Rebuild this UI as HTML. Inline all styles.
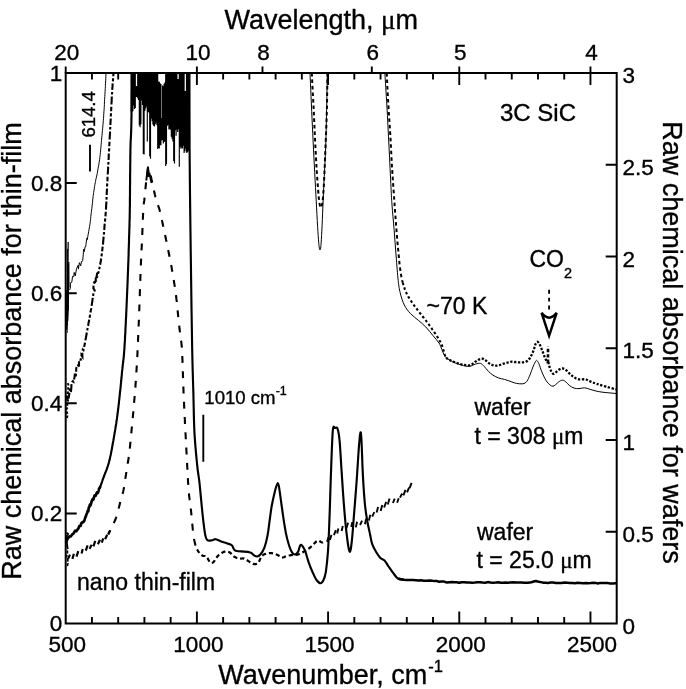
<!DOCTYPE html>
<html><head><meta charset="utf-8"><title>3C SiC absorbance</title>
<style>
html,body{margin:0;padding:0;background:#fff;}
svg{display:block;}
text{font-family:"Liberation Sans",Arial,Helvetica,sans-serif;fill:#000;stroke:#000;stroke-width:0.35px;}
</style></head><body>
<svg width="686" height="689" viewBox="0 0 686 689">
<rect width="686" height="689" fill="#fff"/>
<defs><clipPath id="pc"><rect x="65.7" y="72.9" width="551.0" height="550.7"/></clipPath></defs>
<g clip-path="url(#pc)">
<path d="M67.3,333.0 L67.3,314.1 L66.7,329.7 L66.9,289.9 L67.0,325.7 L68.3,305.7 L67.3,322.8 L67.8,271.6 L67.8,320.8 L67.7,280.5 L66.9,317.1 L68.1,274.8 L66.9,313.8 L68.3,291.5 L68.0,310.9 L68.1,266.1 L68.0,306.6 L67.8,279.3 L67.2,302.3 L67.4,248.9 L67.6,300.2 L68.2,242.0 L67.6,297.8 L67.8,264.4 L68.3,294.5 L68.4,275.7 L68.4,290.2 L68.4,264.1 L68.5,288.2 L68.8,262.0 L69.2,287.6" fill="none" stroke="#000" stroke-width="0.8" stroke-linejoin="round"/>
<path d="M69.3,289.3 L69.8,289.7 L70.3,288.0 L70.4,282.8 L71.8,282.2 L72.5,276.6 L72.9,275.9 L73.8,276.6 L74.2,272.4 L75.3,275.8 L76.5,268.7 L77.4,267.0 L78.1,265.3 L78.4,269.1 L79.4,262.7 L80.8,265.8 L80.8,265.0 L81.5,261.5 L81.8,261.9 L82.7,260.5 L83.3,254.1 L83.4,251.5 L83.6,249.3 L84.2,251.7 L84.4,250.8 L85.1,246.6 L85.9,246.2 L85.9,244.5 L86.7,239.5 L87.2,237.8 L87.1,239.8 L87.5,238.2 L87.8,236.5 L88.1,234.8 L88.4,233.1 L88.7,231.4 L89.0,229.7 L89.3,228.0 L89.6,226.3 L89.8,224.7 L90.1,223.1 L90.3,221.4 L90.5,219.8 L90.7,218.2 L90.8,216.6 L91.0,215.0 L91.2,213.3 L91.4,211.7 L91.6,210.0 L91.8,208.4 L92.0,206.8 L92.2,205.1 L92.4,203.5 L92.6,201.8 L92.7,200.1 L92.9,198.5 L93.1,196.8 L93.3,195.3 L93.5,193.8 L93.7,192.4 L94.0,190.3 L94.3,188.3 L94.6,186.4 L94.9,184.6 L95.2,182.9 L95.5,181.5 L95.7,180.2 L96.1,178.5 L96.7,176.1 L96.9,175.0 L97.2,173.7 L97.4,172.2 L97.7,170.6 L98.0,168.9 L98.3,167.1 L98.7,165.2 L99.0,163.3 L99.3,161.5 L99.6,159.6 L99.8,157.8 L100.0,156.2 L100.2,154.5 L100.4,152.8 L100.6,151.1 L100.7,149.4 L100.9,147.7 L101.0,145.9 L101.2,144.2 L101.3,142.5 L101.5,140.7 L101.6,139.0 L101.8,137.3 L102.0,135.6 L102.1,133.9 L102.3,132.2 L102.4,130.5 L102.6,128.8 L102.8,127.1 L102.9,125.4 L103.1,123.7 L103.2,122.0 L103.3,120.3 L103.5,118.6 L103.6,116.9 L103.7,115.2 L103.8,113.5 L103.9,111.7 L104.1,109.9 L104.2,108.2 L104.3,106.4 L104.4,104.7 L104.4,103.0 L104.5,101.3 L104.6,99.7 L104.7,98.1 L104.8,96.5 L104.9,94.7 L105.0,93.0 L105.1,91.4 L105.2,89.9 L105.3,88.3 L105.4,86.8 L105.4,85.2 L105.5,83.6 L105.6,82.0 L105.7,80.2 L105.8,78.6 L105.8,76.8 L105.9,75.0 L106.0,73.0 L106.1,71.0 L106.2,69.1 L106.2,67.2 L106.3,65.4 L106.4,63.7 L106.4,62.2 L106.5,61.0 L106.5,60.0" fill="none" stroke="#000" stroke-width="1.0" stroke-linejoin="round"/>
<path d="M309.5,60.0 C309.6,62.2 309.5,62.2 310.0,73.2 C310.5,84.2 311.5,107.2 312.4,126.2 C313.3,145.2 314.5,169.2 315.5,187.4 C316.5,205.6 317.4,225.2 318.2,235.6 C318.9,246.0 319.4,249.9 320.0,249.9 C320.6,249.9 321.0,246.0 321.6,235.6 C322.2,225.2 323.0,202.2 323.7,187.4 C324.4,172.6 325.2,160.2 325.7,146.6 C326.2,133.0 326.4,118.0 326.7,105.8 C327.0,93.6 327.2,80.8 327.3,73.2 C327.4,65.6 327.5,62.2 327.5,60.0" fill="none" stroke="#000" stroke-width="1.0"/>
<path d="M384.3,60.0 C384.4,62.2 384.5,65.6 384.9,73.2 C385.3,80.8 386.2,93.6 386.9,105.8 C387.6,118.0 388.3,133.0 389.0,146.6 C389.7,160.2 390.5,177.7 391.0,187.4 C391.5,197.1 391.5,198.0 392.0,205.0 C392.5,212.0 393.4,221.0 394.1,229.5 C394.8,238.0 395.4,247.5 396.1,256.0 C396.8,264.5 397.5,274.4 398.2,280.5 C398.9,286.6 399.2,288.7 400.2,292.8 C401.2,296.9 402.6,301.6 404.3,305.0 C406.0,308.4 408.0,310.9 410.4,313.5 C412.8,316.1 416.0,318.2 418.6,320.5 C421.2,322.8 423.4,324.5 425.8,327.0 C428.2,329.5 430.9,333.0 433.1,335.7 C435.3,338.4 437.5,340.7 439.0,343.0 C440.5,345.3 440.9,347.4 441.9,349.6 C442.9,351.8 443.6,354.4 444.8,356.1 C446.0,357.8 447.3,358.6 449.2,359.8 C451.1,361.0 454.0,362.4 456.4,363.4 C458.8,364.4 461.5,365.1 463.7,365.6 C465.9,366.1 467.7,366.6 469.6,366.3 C471.6,366.1 473.6,364.6 475.4,364.1 C477.2,363.6 479.1,363.0 480.5,363.4 C481.9,363.8 482.8,365.0 484.1,366.3 C485.4,367.6 487.0,369.9 488.5,371.4 C490.0,372.9 491.2,374.0 492.9,375.1 C494.6,376.2 496.8,377.3 498.7,378.0 C500.6,378.7 502.3,378.8 504.5,379.4 C506.7,380.0 509.8,381.2 511.8,381.9 C513.8,382.6 514.6,383.1 516.4,383.4 C518.2,383.7 521.1,384.1 522.8,383.8 C524.5,383.5 525.6,382.9 526.8,381.4 C528.0,379.9 528.9,377.4 530.0,374.9 C531.1,372.3 532.3,368.4 533.3,366.1 C534.2,363.8 535.1,362.2 535.7,361.3 C536.3,360.4 536.4,360.1 536.9,360.5 C537.4,360.9 538.0,361.7 538.9,363.7 C539.8,365.7 540.9,369.7 542.1,372.5 C543.3,375.3 544.8,378.5 546.1,380.6 C547.4,382.7 549.0,384.1 550.1,385.0 C551.2,385.9 552.1,386.3 553.0,386.2 C553.9,386.1 554.7,385.4 555.7,384.6 C556.7,383.9 557.8,382.4 558.9,381.7 C560.0,381.0 561.0,380.2 562.1,380.2 C563.2,380.1 564.1,380.5 565.3,381.4 C566.5,382.3 567.8,384.3 569.3,385.4 C570.8,386.5 572.5,387.6 574.1,388.1 C575.7,388.6 577.2,388.7 579.0,388.6 C580.8,388.6 582.7,387.7 584.6,387.8 C586.5,387.9 587.9,388.8 590.2,389.4 C592.5,390.0 595.5,391.0 598.2,391.5 C600.9,392.0 603.1,392.3 606.2,392.6 C609.3,392.9 615.2,393.4 617.0,393.5" fill="none" stroke="#000" stroke-width="1.0"/>
<path d="M66.5,400.4 L67.4,398.8 L67.4,398.6 L67.7,397.1 L68.4,397.4 L68.6,393.1 L69.2,394.5 L70.1,388.3 L70.9,392.2 L71.3,388.5 L71.5,383.3 L72.2,382.1 L72.5,381.5 L72.9,381.2 L73.6,381.8 L74.1,379.0 L74.5,377.4 L74.9,373.5 L75.7,376.3 L76.1,373.1 L76.2,368.8 L76.8,366.1 L77.7,366.6 L78.3,365.1 L79.0,366.4 L79.0,361.3 L80.1,361.4 L80.7,359.6 L80.6,359.6 L81.5,356.2 L81.5,355.4 L82.4,356.7 L82.3,352.2 L82.8,349.4 L83.5,350.0 L83.8,348.8 L84.0,347.5 L84.3,346.1 L84.6,344.7 L84.9,343.2 L85.2,341.6 L85.5,340.0 L85.8,338.3 L86.1,336.6 L86.4,335.0 L86.7,333.3 L87.0,331.6 L87.3,330.0 L87.6,328.4 L87.9,326.9 L88.2,325.4 L88.4,323.8 L88.7,322.3 L89.0,320.7 L89.3,319.1 L89.6,317.5 L89.9,315.9 L90.1,314.4 L90.4,312.8 L90.7,311.3 L90.9,309.9 L91.2,308.5 L91.4,307.2 L91.6,305.9 L91.9,303.9 L92.2,302.1 L92.4,300.4 L92.7,298.8 L92.9,297.2 L93.1,295.8 L93.3,294.3 L93.5,293.0 L94.7,290.6 L94.2,289.5 L93.4,288.4 L93.5,286.4 L93.8,284.1 L94.4,282.1 L97.2,282.3 L95.6,280.9 L95.8,278.3 L98.3,277.7 L96.5,276.8 L97.2,273.4 L98.4,272.7 L98.8,271.2 L99.1,269.6 L99.5,267.9 L99.8,266.2 L100.2,264.5 L100.5,262.7 L100.8,261.0 L101.0,259.5 L101.3,257.9 L101.5,256.3 L101.7,254.7 L101.9,253.1 L102.1,251.5 L102.3,249.8 L102.5,248.1 L102.7,246.4 L102.9,244.7 L103.1,243.2 L103.2,241.7 L103.3,240.2 L103.5,238.6 L103.6,237.1 L103.7,235.5 L103.9,233.9 L104.0,232.4 L104.1,230.8 L104.3,229.3 L104.4,227.8 L104.5,226.3 L104.6,224.6 L104.8,223.1 L104.9,221.6 L105.1,220.2 L105.2,218.7 L105.3,217.2 L105.5,215.7 L105.6,214.0 L105.8,212.1 L105.9,210.0 L106.0,208.7 L106.1,207.4 L106.1,206.1 L106.2,204.6 L106.3,203.2 L106.4,201.7 L106.4,200.2 L106.5,198.6 L106.6,197.0 L106.7,195.4 L106.7,193.7 L106.8,192.1 L106.9,190.4 L107.0,188.8 L107.0,187.1 L107.1,185.5 L107.2,183.8 L107.3,182.2 L107.4,180.7 L107.5,179.3 L107.5,177.8 L107.6,176.3 L107.7,174.7 L107.8,173.2 L107.9,171.7 L108.0,170.2 L108.1,168.6 L108.1,167.1 L108.2,165.5 L108.3,164.0 L108.4,162.4 L108.5,160.9 L108.6,159.3 L108.7,157.8 L108.7,156.2 L108.8,154.7 L108.9,153.1 L109.0,151.6 L109.1,150.1 L109.2,148.5 L109.2,147.0 L109.3,145.5 L109.4,143.9 L109.5,142.4 L109.6,140.9 L109.6,139.4 L109.7,137.8 L109.8,136.3 L109.9,134.8 L110.0,133.2 L110.0,131.7 L110.1,130.2 L110.2,128.7 L110.3,127.1 L110.4,125.6 L110.4,124.1 L110.5,122.5 L110.6,121.0 L110.7,119.5 L110.8,117.9 L110.8,116.3 L110.9,114.7 L111.0,113.0 L111.1,111.4 L111.2,109.8 L111.3,108.1 L111.3,106.5 L111.4,104.9 L111.5,103.3 L111.6,101.7 L111.7,100.1 L111.7,98.6 L111.8,97.1 L111.9,95.7 L112.0,94.3 L112.1,92.9 L112.1,91.6 L112.2,90.4 L112.3,88.3 L112.5,86.4 L112.6,84.6 L112.7,82.9 L112.9,81.4 L113.0,79.9 L113.1,78.4 L113.2,77.1 L113.3,75.7 L113.4,74.4 L113.5,73.0 L113.6,71.1 L113.7,69.1 L113.8,67.2 L113.8,65.4 L113.9,63.7 L113.9,62.2 L114.0,61.0 L114.0,60.0" fill="none" stroke="#000" stroke-width="2.1" stroke-dasharray="6.5 2 3.2 2 4.6 2.2 8 2 2.6 2"/>
<path d="M66.9,418.0 L67.8,414.8 L66.7,411.2 L66.6,409.1 L67.9,407.0 L67.5,405.2 L66.9,403.2 L68.1,400.6 L66.3,397.6 L66.6,395.4 L68.1,391.7 L68.1,388.2 L68.4,384.8 L66.9,381.3" fill="none" stroke="#000" stroke-width="1.8" stroke-dasharray="2.5 1.8"/>
<path d="M311.5,60.0 C311.6,62.8 311.7,69.4 312.0,77.0 C312.3,84.6 313.0,95.9 313.5,105.8 C314.0,115.7 314.4,126.2 314.9,136.4 C315.4,146.6 315.9,157.1 316.5,167.0 C317.1,176.9 318.0,188.9 318.6,195.6 C319.2,202.3 319.8,205.6 320.4,207.0 C321.0,208.4 321.6,207.1 322.2,203.8 C322.8,200.5 323.2,195.2 323.7,187.4 C324.2,179.6 324.6,168.7 325.1,156.8 C325.6,144.9 326.3,127.9 326.7,116.0 C327.1,104.1 327.1,94.7 327.3,85.4 C327.5,76.1 327.7,64.2 327.8,60.0" fill="none" stroke="#000" stroke-width="2.0" stroke-dasharray="3.6 2.9"/>
<path d="M386.3,60.0 L386.3,60.5 L386.3,61.2 L386.4,61.9 L386.4,62.6 L386.4,63.5 L386.4,64.3 L386.5,65.3 L386.5,66.3 L386.5,67.3 L386.6,68.4 L386.6,69.6 L386.6,70.8 L386.7,72.0 L386.7,73.3 L386.8,74.5 L386.8,75.9 L386.9,77.2 L386.9,78.0 L387.0,78.9 L387.0,79.8 L387.1,80.7 L387.1,81.6 L387.2,82.5 L387.2,83.5 L387.2,84.5 L387.3,85.5 L387.3,86.5 L387.4,87.5 L387.5,88.6 L387.5,89.6 L387.6,90.7 L387.6,91.7 L387.7,92.8 L387.7,93.9 L387.8,95.0 L387.8,96.1 L387.9,97.2 L388.0,98.2 L388.0,99.3 L388.1,100.4 L388.2,101.5 L388.2,102.6 L388.3,103.7 L388.3,104.7 L388.4,105.8 L388.5,106.8 L388.5,107.8 L388.6,108.8 L388.6,109.8 L388.7,110.8 L388.8,111.8 L388.8,112.8 L388.9,113.8 L389.0,114.8 L389.0,115.9 L389.1,116.9 L389.2,117.9 L389.3,118.9 L389.3,119.9 L389.4,121.0 L389.5,122.0 L389.5,123.0 L389.6,124.1 L389.7,125.1 L389.7,126.1 L389.8,127.2 L389.9,128.2 L390.0,129.2 L390.0,130.2 L390.1,131.3 L390.1,132.3 L390.2,133.3 L390.3,134.4 L390.3,135.4 L390.4,136.4 L390.5,137.4 L390.5,138.4 L390.6,139.5 L390.6,140.5 L390.7,141.5 L390.7,142.5 L390.8,143.5 L390.8,144.6 L390.9,145.6 L390.9,146.6 L391.0,147.6 L391.0,148.6 L391.1,149.7 L391.1,150.7 L391.2,151.7 L391.2,152.7 L391.3,153.7 L391.3,154.8 L391.4,155.8 L391.4,156.8 L391.5,157.8 L391.5,158.8 L391.6,159.9 L391.7,160.9 L391.7,161.9 L391.8,162.9 L391.8,163.9 L391.9,165.0 L391.9,166.0 L392.0,167.0 L392.1,168.0 L392.1,169.0 L392.2,170.1 L392.3,171.1 L392.3,172.1 L392.4,173.2 L392.5,174.2 L392.5,175.3 L392.6,176.3 L392.7,177.3 L392.7,178.4 L392.8,179.4 L392.9,180.5 L393.0,181.5 L393.0,182.5 L393.1,183.6 L393.2,184.6 L393.2,185.6 L393.3,186.7 L393.4,187.7 L393.5,188.7 L393.5,189.7 L393.6,190.7 L393.7,191.8 L393.8,192.8 L393.8,193.8 L393.9,194.8 L394.0,195.7 L394.0,196.7 L394.1,197.7 L394.2,198.8 L394.3,199.9 L394.3,200.9 L394.4,202.0 L394.5,203.1 L394.6,204.2 L394.6,205.3 L394.7,206.4 L394.8,207.4 L394.9,208.5 L394.9,209.6 L395.0,210.6 L395.1,211.7 L395.2,212.7 L395.2,213.8 L395.3,214.8 L395.4,215.8 L395.5,216.8 L395.5,217.8 L395.6,218.8 L395.7,219.8 L395.7,220.8 L395.8,221.7 L395.9,222.7 L396.0,223.6 L396.0,224.5 L396.1,225.4 L396.2,226.6 L396.3,227.7 L396.4,228.9 L396.5,229.9 L396.5,231.0 L396.6,232.1 L396.7,233.1 L396.8,234.1 L396.9,235.1 L397.0,236.1 L397.0,237.0 L397.1,238.0 L397.2,239.0 L397.3,239.9 L397.4,240.9 L397.4,241.8 L397.5,242.8 L397.6,243.8 L397.7,244.8 L397.8,245.8 L397.9,246.8 L398.0,247.9 L398.1,248.9 L398.2,250.0 L398.3,251.0 L398.4,252.1 L398.5,253.2 L398.6,254.3 L398.7,255.3 L398.8,256.4 L398.9,257.4 L399.0,258.5 L399.1,259.5 L399.2,260.5 L399.3,261.5 L399.4,262.5 L399.5,263.5 L399.6,264.4 L399.7,265.3 L399.8,266.2 L400.0,267.4 L400.1,268.6 L400.3,269.7 L400.4,270.8 L400.6,271.8 L400.7,272.9 L400.9,273.9 L401.0,274.8 L401.2,275.8 L401.4,276.7 L401.6,277.7 L401.8,278.6 L402.0,279.6 L402.2,280.5 L402.5,281.6 L402.8,282.7" fill="none" stroke="#000" stroke-width="2.0" stroke-dasharray="3.6 2.9"/>
<path d="M402.8,282.7 L403.1,283.8 L403.4,284.8 L403.7,285.9 L404.0,286.9 L404.4,287.9 L404.7,288.9 L405.1,289.9 L405.5,290.9 L405.9,291.9 L406.3,292.8 L406.8,293.8 L407.3,294.8 L407.8,295.7 L408.3,296.7 L408.9,297.6 L409.4,298.5 L410.0,299.4 L410.6,300.3 L411.2,301.2 L411.8,302.1 L412.4,303.0 L413.0,303.9 L413.6,304.7 L414.2,305.6 L414.9,306.5 L415.6,307.4 L416.2,308.2 L416.9,309.1 L417.5,309.9 L418.2,310.8 L418.8,311.6 L419.4,312.4 L420.0,313.1 L420.7,314.0 L421.4,314.9 L422.1,315.7 L422.7,316.5 L423.3,317.3 L423.9,318.0 L424.5,318.8 L425.2,319.6 L425.8,320.4 L426.5,321.3 L427.1,322.1 L427.8,323.0 L428.4,323.9 L429.1,324.8 L429.7,325.6 L430.4,326.6 L431.0,327.5 L431.7,328.4 L432.3,329.3 L432.9,330.1 L433.5,331.0 L434.1,331.9 L434.7,332.8 L435.3,333.7 L435.9,334.6 L436.4,335.5 L437.0,336.3 L437.5,337.2 L438.1,338.1 L438.6,339.0 L439.2,340.0 L439.7,340.8 L440.2,341.7 L440.6,342.6 L441.1,343.5 L441.5,344.3 L441.9,345.2 L442.3,346.3 L442.7,347.4 L443.0,348.5 L443.3,349.6 L443.5,350.6 L443.8,351.6 L444.1,352.5 L444.5,353.7 L444.8,354.8 L445.1,355.8 L445.5,356.7 L446.2,357.6" fill="none" stroke="#000" stroke-width="2.1" stroke-dasharray="2.5 2.4"/>
<path d="M446.2,357.6 L446.9,358.3 L447.8,359.0 L448.8,359.6 L449.9,360.1 L451.0,360.7 L452.1,361.2 L453.1,361.6 L454.1,362.0 L455.1,362.4 L456.2,362.7 L457.3,363.1 L458.4,363.4 L459.4,363.7 L460.5,364.0 L461.5,364.3 L462.6,364.6 L463.7,364.8 L464.7,365.0 L465.7,365.2 L466.6,365.3 L467.9,365.4 L468.9,365.4 L469.9,365.3 L471.0,364.9 L471.8,364.5 L472.6,363.9 L473.5,363.2 L474.4,362.5 L475.2,361.8 L476.1,361.2 L477.1,360.6 L478.2,359.9 L479.3,359.4 L480.3,359.0 L481.2,358.7 L482.5,358.7 L483.7,359.1 L484.9,359.8 L485.7,360.4 L486.5,361.1 L487.4,361.9 L488.3,362.7 L489.2,363.4 L490.2,364.0 L491.2,364.5 L492.3,365.0 L493.3,365.3 L494.3,365.6 L495.4,365.7 L496.5,365.7 L497.5,365.5 L498.7,365.3 L499.6,365.1 L500.5,364.8 L501.4,364.4 L502.4,364.1 L503.4,363.7 L504.5,363.4 L505.5,363.1 L506.5,362.8 L507.6,362.5 L508.7,362.3 L509.8,362.0 L510.8,361.8 L511.8,361.7 L512.9,361.7 L513.9,361.8 L515.0,362.0 L516.0,362.2 L517.0,362.3 L518.0,362.4 L519.1,362.4 L520.2,362.4 L521.3,362.4 L522.4,362.4 L523.5,362.3 L524.4,362.1 L525.6,361.8 L526.6,361.4 L527.5,360.8 L528.4,360.0 L529.0,359.3 L529.6,358.6 L530.1,357.7 L530.6,356.8 L531.1,355.9 L531.6,354.9 L532.1,353.9 L532.5,352.8 L533.0,351.7 L533.4,350.6 L533.7,349.5 L534.1,348.5 L534.5,347.4 L534.8,346.3 L535.1,345.3 L535.4,344.4 L535.7,343.7 L536.6,342.3 L537.6,341.8 L538.3,342.3 L539.0,343.2 L539.7,344.5 L540.1,345.3 L540.5,346.1 L540.9,347.1 L541.3,348.1 L541.7,349.1 L542.1,350.1 L542.5,351.1 L542.9,352.2 L543.3,353.4 L543.7,354.5 L544.1,355.5 L544.5,356.5 L545.0,357.6 L545.4,358.7 L545.9,359.7 L546.3,360.6 L546.6,361.3 L547.6,363.0" fill="none" stroke="#000" stroke-width="2.3" stroke-dasharray="2.3 1.6"/>
<path d="M548.3,362.0 C548.5,362.7 548.8,364.5 549.3,366.1 C549.8,367.7 550.7,370.4 551.4,371.7 C552.1,373.0 552.8,373.8 553.6,373.8 C554.5,373.8 555.5,372.4 556.5,371.7 C557.5,370.9 558.6,369.8 559.7,369.3 C560.8,368.8 561.8,368.4 562.9,368.5 C564.0,368.6 564.9,369.2 566.1,370.1 C567.3,371.0 568.8,372.9 570.1,374.1 C571.4,375.3 572.6,376.5 574.1,377.4 C575.6,378.3 577.1,379.0 579.0,379.3 C580.9,379.6 583.5,379.0 585.4,379.4 C587.3,379.8 588.3,380.7 590.2,381.4 C592.1,382.1 593.9,382.9 596.6,383.8 C599.3,384.7 602.8,385.7 606.2,386.7 C609.6,387.7 615.2,389.1 617.0,389.6" fill="none" stroke="#000" stroke-width="2.3" stroke-dasharray="2.3 1.6"/>
<path d="M548.0,363.0 L548.0,346.5" fill="none" stroke="#000" stroke-width="2.6" stroke-dasharray="3.4 2"/>
<path d="M108.0,533.9 L108.6,533.2 L109.1,532.4 L109.6,531.5 L110.1,530.6 L110.5,529.7 L111.0,528.7 L111.5,527.7 L112.0,526.7 L112.5,525.8 L112.9,524.8 L113.4,523.9 L113.9,522.9 L114.3,521.9 L114.8,520.9 L115.3,519.8 L115.7,518.7 L116.1,517.6 L116.4,516.6 L116.7,515.6 L117.0,514.6 L117.3,513.5 L117.6,512.4 L117.9,511.3 L118.2,510.3 L118.5,509.2 L118.7,508.2 L119.0,507.2 L119.2,506.3 L119.5,505.1 L119.8,504.1 L120.0,503.0 L120.3,502.1 L120.5,501.1 L120.7,500.2 L120.9,499.2 L121.2,498.2 L121.5,497.2 L121.7,496.4 L122.0,495.5 L122.3,494.7 L122.6,493.8 L122.9,492.7 L123.2,491.5 L123.5,490.0 L123.7,489.2 L123.8,488.4 L124.0,487.5 L124.1,486.6 L124.3,485.6 L124.4,484.6 L124.6,483.6 L124.8,482.5 L124.9,481.4 L125.1,480.3 L125.3,479.2 L125.4,478.1 L125.6,476.9 L125.8,475.8 L126.0,474.7 L126.1,473.5 L126.3,472.4 L126.4,471.5 L126.6,470.5 L126.7,469.6 L126.9,468.7 L127.1,467.7 L127.2,466.8 L127.4,465.9 L127.5,464.9 L127.7,464.0 L127.8,463.0 L128.0,462.0 L128.2,461.0 L128.3,460.0 L128.5,459.0 L128.6,457.9 L128.8,456.8 L128.9,455.6 L129.1,454.5 L129.2,453.3 L129.4,452.0 L129.5,451.1 L129.6,450.3 L129.7,449.4 L129.8,448.4 L129.9,447.5 L130.0,446.5 L130.1,445.6 L130.2,444.6 L130.3,443.6 L130.4,442.6 L130.5,441.5 L130.6,440.5 L130.7,439.4 L130.8,438.4 L130.9,437.3 L131.0,436.3 L131.1,435.2 L131.2,434.1 L131.3,433.1 L131.4,432.0 L131.5,430.9 L131.6,429.8 L131.7,428.8 L131.8,427.7 L131.9,426.6 L132.0,425.6 L132.1,424.5 L132.2,423.5 L132.3,422.4 L132.4,421.4 L132.5,420.4 L132.6,419.3 L132.7,418.3 L132.8,417.2 L132.9,416.2 L133.0,415.1 L133.1,414.0 L133.2,413.0 L133.3,411.9 L133.4,410.8 L133.5,409.7 L133.6,408.7 L133.7,407.6 L133.8,406.5 L133.8,405.5 L133.9,404.4 L134.0,403.4 L134.1,402.3 L134.2,401.3 L134.3,400.2 L134.4,399.2 L134.5,398.2 L134.6,397.2 L134.6,396.3 L134.7,395.3 L134.8,394.4 L134.9,393.4 L135.0,392.5 L135.0,391.7 L135.1,390.8 L135.2,389.5 L135.3,388.3 L135.4,387.2 L135.5,386.1 L135.5,385.0 L135.6,383.9 L135.7,382.9 L135.8,381.9 L135.8,380.9 L135.9,380.0 L136.0,379.0 L136.0,378.1 L136.1,377.1 L136.1,376.2 L136.2,375.3 L136.3,374.3 L136.3,373.4 L136.4,372.4 L136.4,371.4 L136.5,370.4 L136.6,369.4 L136.6,368.4 L136.7,367.5 L136.7,366.6 L136.8,365.7 L136.8,364.8 L136.9,364.0 L136.9,363.1 L137.0,362.2 L137.0,361.3 L137.1,360.4 L137.1,359.4 L137.2,358.4 L137.2,357.4 L137.3,356.3 L137.4,355.2 L137.4,354.0 L137.5,352.8 L137.5,351.4 L137.6,350.0 L137.6,349.2 L137.7,348.4 L137.7,347.6 L137.7,346.8 L137.8,345.9 L137.8,345.0 L137.9,344.1 L137.9,343.2 L137.9,342.3 L138.0,341.3 L138.0,340.4 L138.1,339.4 L138.1,338.4 L138.2,337.4 L138.2,336.4 L138.2,335.4 L138.3,334.4 L138.3,333.3 L138.4,332.3 L138.4,331.2 L138.5,330.2 L138.5,329.1 L138.6,328.0 L138.6,327.0 L138.6,325.9 L138.7,324.8 L138.7,323.7 L138.8,322.6 L138.8,321.6 L138.9,320.5 L138.9,319.4 L139.0,318.3 L139.0,317.3 L139.0,316.2 L139.1,315.1 L139.1,314.1 L139.2,313.0 L139.2,312.0 L139.2,311.0 L139.3,310.0 L139.3,309.0 L139.3,308.0 L139.4,307.0 L139.4,305.9 L139.5,304.9 L139.5,303.9 L139.5,302.8 L139.6,301.8 L139.6,300.7 L139.6,299.6 L139.7,298.6 L139.7,297.5 L139.7,296.5 L139.8,295.4 L139.8,294.3 L139.8,293.3 L139.9,292.2 L139.9,291.1 L139.9,290.1 L140.0,289.0 L140.0,288.0 L140.0,286.9 L140.1,285.9 L140.1,284.8 L140.2,283.8 L140.2,282.8 L140.2,281.8 L140.3,280.7 L140.3,279.7 L140.3,278.8 L140.4,277.8 L140.4,276.8 L140.4,275.8 L140.5,274.9 L140.5,273.9 L140.5,273.0 L140.6,272.1 L140.6,271.2 L140.6,270.0 L140.7,268.9 L140.7,267.7 L140.8,266.6 L140.8,265.5 L140.9,264.4 L140.9,263.4 L141.0,262.3 L141.0,261.3 L141.1,260.2 L141.1,259.2 L141.2,258.2 L141.2,257.2 L141.3,256.2 L141.3,255.3 L141.4,254.3 L141.4,253.3 L141.4,252.4 L141.5,251.4 L141.5,250.4 L141.6,249.5 L141.6,248.5 L141.7,247.5 L141.7,246.6 L141.8,245.6 L141.8,244.6 L141.9,243.6 L141.9,242.6 L142.0,241.6 L142.0,240.6 L142.0,239.6 L142.1,238.5 L142.1,237.5 L142.2,236.4 L142.2,235.3 L142.3,234.2 L142.3,233.1 L142.4,232.0 L142.4,230.9 L142.4,229.8 L142.5,228.7 L142.5,227.5 L142.6,226.4 L142.6,225.3 L142.7,224.2 L142.7,223.1 L142.7,222.1 L142.8,221.0 L142.8,220.0 L142.9,218.9 L142.9,217.9 L142.9,216.9 L143.0,216.0 L143.0,215.0 L143.1,214.1 L143.1,213.2 L143.2,212.4 L143.2,211.5 L143.3,210.8 L143.3,210.0 L143.4,208.4 L143.5,207.0 L143.6,205.7 L143.7,204.6 L143.8,203.6 L143.9,202.7 L144.0,201.8 L144.2,201.0 L144.3,200.2 L144.4,199.3 L144.5,198.4 L144.6,197.5 L144.7,196.5 L144.8,195.5 L144.9,194.5 L145.0,193.5 L145.1,192.4 L145.2,191.4 L145.3,190.3 L145.4,189.3 L145.5,188.2 L145.6,187.2 L145.7,186.2 L145.8,185.1 L145.9,184.1 L146.0,183.2 L146.1,182.2 L146.2,181.1 L146.4,179.9 L146.5,178.8 L146.7,177.6 L146.8,176.5 L147.0,175.4 L147.2,174.3 L147.3,173.3 L147.4,172.3 L147.6,171.4 L147.7,170.7 L147.8,170.0 L148.1,167.5 L148.4,167.6 L148.6,168.1 L148.9,168.8 L149.1,169.7 L149.4,170.8 L149.8,172.0 L150.1,173.3 L150.5,174.7 L150.8,176.1 L151.0,176.9 L151.2,177.9 L151.4,178.8 L151.6,179.8 L151.9,180.9 L152.1,181.9 L152.3,183.0 L152.5,184.1 L152.8,185.2 L153.0,186.3 L153.2,187.4 L153.5,188.4 L153.7,189.4 L153.9,190.4 L154.2,191.5 L154.4,192.6 L154.7,193.7 L154.9,194.8 L155.2,195.9 L155.4,197.0 L155.7,198.0 L155.9,199.0 L156.2,200.0 L156.4,201.0 L156.7,201.9 L156.9,202.7 L157.3,203.9 L157.6,204.8 L158.0,205.5 L158.3,206.2 L158.7,207.1 L159.1,208.3 L159.6,210.0 L159.8,210.7 L160.0,211.5 L160.2,212.3 L160.4,213.2 L160.6,214.1 L160.8,215.0 L161.0,216.0 L161.2,217.0 L161.5,218.1 L161.7,219.1 L161.9,220.2 L162.2,221.3 L162.4,222.4 L162.6,223.6 L162.9,224.7 L163.1,225.8 L163.4,227.0 L163.6,228.1 L163.9,229.3 L164.1,230.4 L164.3,231.3 L164.5,232.2 L164.7,233.2 L164.9,234.1 L165.1,235.1 L165.3,236.0 L165.5,237.0 L165.7,238.0 L165.9,239.0 L166.1,240.0 L166.4,241.0 L166.6,242.0 L166.8,243.0 L167.0,244.0 L167.2,245.1 L167.4,246.1 L167.6,247.1 L167.8,248.1 L168.0,249.1 L168.2,250.1 L168.4,251.1 L168.6,252.0 L168.8,253.0 L169.0,254.0 L169.2,254.9 L169.4,256.0 L169.6,257.0 L169.8,258.1 L170.0,259.1 L170.2,260.2 L170.4,261.2 L170.6,262.2 L170.8,263.3 L171.0,264.3 L171.2,265.3 L171.4,266.3 L171.6,267.4 L171.8,268.4 L171.9,269.4 L172.1,270.4 L172.3,271.4 L172.5,272.4 L172.6,273.4 L172.8,274.4 L173.0,275.3 L173.1,276.3 L173.3,277.3 L173.5,278.4 L173.6,279.4 L173.8,280.5 L174.0,281.5 L174.1,282.6 L174.3,283.6 L174.5,284.6 L174.6,285.6 L174.8,286.7 L174.9,287.7 L175.1,288.7 L175.2,289.7 L175.4,290.7 L175.5,291.7 L175.6,292.7 L175.8,293.7 L175.9,294.7 L176.0,295.8 L176.2,296.8 L176.3,297.8 L176.4,298.8 L176.5,299.9 L176.7,300.9 L176.8,301.9 L176.9,303.0 L177.0,304.0 L177.1,305.0 L177.2,306.1 L177.3,307.1 L177.4,308.1 L177.5,309.2 L177.6,310.2 L177.7,311.2 L177.8,312.2 L177.9,313.3 L178.0,314.3 L178.1,315.3 L178.2,316.2 L178.3,317.2 L178.4,318.2 L178.5,319.3 L178.6,320.4 L178.7,321.4 L178.9,322.5 L179.0,323.6 L179.1,324.6 L179.2,325.7 L179.3,326.7 L179.4,327.8 L179.5,328.8 L179.7,329.8 L179.8,330.8 L179.9,331.8 L180.0,332.8 L180.1,333.8 L180.2,334.7 L180.3,335.6 L180.4,336.5 L180.5,337.6 L180.7,338.6 L180.8,339.4 L180.9,340.1 L181.0,340.8 L181.2,341.5 L181.3,342.2 L181.4,343.0 L181.5,344.0 L181.6,345.1 L181.8,346.5 L181.9,348.1 L182.0,350.0 L182.0,350.7 L182.1,351.4 L182.1,352.2 L182.2,353.0 L182.2,353.9 L182.2,354.7 L182.3,355.6 L182.3,356.6 L182.3,357.5 L182.4,358.5 L182.4,359.5 L182.5,360.6 L182.5,361.6 L182.5,362.7 L182.6,363.7 L182.6,364.8 L182.6,366.0 L182.7,367.1 L182.7,368.2 L182.8,369.3 L182.8,370.5 L182.8,371.6 L182.9,372.8 L182.9,373.9 L182.9,375.0 L183.0,376.2 L183.0,377.3 L183.1,378.4 L183.1,379.6 L183.1,380.7 L183.2,381.8 L183.2,382.9 L183.2,383.9 L183.3,385.0 L183.3,386.0 L183.4,387.0 L183.4,388.0 L183.4,389.0 L183.5,389.9 L183.5,390.8 L183.5,392.0 L183.6,393.1 L183.6,394.3 L183.7,395.4 L183.7,396.5 L183.8,397.6 L183.8,398.6 L183.9,399.7 L183.9,400.7 L184.0,401.8 L184.0,402.8 L184.1,403.8 L184.1,404.8 L184.1,405.8 L184.2,406.7 L184.2,407.7 L184.3,408.7 L184.3,409.6 L184.4,410.6 L184.4,411.6 L184.5,412.5 L184.5,413.5 L184.6,414.5 L184.6,415.4 L184.7,416.4 L184.7,417.4 L184.8,418.4 L184.8,419.4 L184.9,420.4 L184.9,421.4 L184.9,422.4 L185.0,423.4 L185.0,424.4 L185.1,425.4 L185.1,426.4 L185.2,427.4 L185.2,428.4 L185.3,429.4 L185.3,430.3 L185.4,431.3 L185.5,432.3 L185.5,433.3 L185.6,434.3 L185.6,435.3 L185.7,436.2 L185.7,437.2 L185.8,438.2 L185.8,439.2 L185.9,440.2 L185.9,441.3 L186.0,442.3 L186.0,443.3 L186.1,444.4 L186.1,445.4 L186.2,446.5 L186.3,447.5 L186.3,448.6 L186.4,449.7 L186.4,450.9 L186.5,452.0 L186.5,452.9 L186.6,453.9 L186.6,454.8 L186.7,455.8 L186.8,456.8 L186.8,457.8 L186.9,458.8 L186.9,459.9 L187.0,461.0 L187.0,462.0 L187.1,463.1 L187.1,464.2 L187.2,465.3 L187.2,466.4 L187.3,467.5 L187.4,468.6 L187.4,469.7 L187.5,470.8 L187.5,471.9 L187.6,473.0 L187.6,474.1 L187.7,475.2 L187.8,476.2 L187.8,477.3 L187.9,478.3 L187.9,479.4 L188.0,480.4 L188.0,481.4 L188.1,482.3 L188.2,483.3 L188.2,484.2 L188.3,485.1 L188.3,486.0 L188.4,486.9 L188.4,487.7 L188.5,488.5 L188.5,489.3 L188.6,490.0 L188.7,491.6 L188.9,493.1 L189.0,494.4 L189.1,495.6 L189.2,496.6 L189.4,497.6 L189.5,498.6 L189.6,499.4 L189.8,500.2 L189.9,501.0 L190.0,501.8 L190.1,502.6 L190.2,503.5 L190.4,504.3 L190.5,505.3 L190.6,506.3 L190.7,507.3 L190.8,508.3 L190.9,509.4 L191.0,510.4 L191.1,511.5 L191.2,512.5 L191.3,513.6 L191.4,514.7 L191.5,515.8 L191.6,516.8 L191.7,517.9 L191.8,518.9 L191.9,520.0 L192.0,521.0 L192.1,522.0 L192.2,523.0 L192.3,524.0 L192.4,525.1 L192.5,526.2 L192.6,527.3 L192.7,528.4 L192.8,529.4 L193.0,530.5 L193.1,531.5 L193.2,532.6 L193.3,533.6 L193.4,534.6 L193.5,535.6 L193.7,536.5 L193.8,537.4 L193.9,538.3 L194.1,539.2 L194.3,540.4 L194.6,541.6 L194.8,542.8 L195.1,543.8 L195.4,544.9 L195.7,545.9 L196.0,546.8 L196.3,547.7 L196.7,548.6" fill="none" stroke="#000" stroke-width="2.1" stroke-dasharray="6.9 8.4" stroke-dashoffset="3" stroke-linejoin="round"/>
<path d="M197.1,549.4 L197.7,550.5 L198.4,551.6 L199.2,552.6 L200.0,553.5 L200.8,554.2 L201.5,554.9 L202.2,555.5 L203.3,556.0 L204.3,556.0 L205.3,556.0 L206.3,556.5 L206.9,557.2 L207.5,558.1 L208.1,559.2 L208.7,560.3 L209.3,561.3 L209.9,562.1 L210.4,562.7 L211.5,563.1 L212.5,562.8 L213.5,562.0 L214.1,561.4 L214.7,560.5 L215.2,559.5 L215.8,558.5 L216.5,557.6 L217.2,556.7 L218.0,555.8 L218.8,555.0 L219.7,554.2 L220.6,553.5 L221.6,552.9 L222.6,552.4 L223.7,551.9 L224.7,551.6 L225.7,551.4 L226.8,551.4 L227.8,551.5 L228.8,551.9 L229.8,552.4 L230.6,553.1 L231.4,553.9 L232.2,554.9 L233.0,555.8 L233.9,556.5 L234.9,557.1 L235.9,557.6 L236.9,558.0 L238.0,558.3 L239.0,558.6 L240.0,558.7 L241.0,558.6 L242.1,558.5 L243.1,558.4 L244.1,558.6 L245.1,559.0 L246.1,559.6 L247.2,560.3 L248.2,561.0 L249.2,561.6 L250.2,562.2 L251.3,562.8 L252.3,563.4 L253.3,563.9 L254.3,564.1 L255.4,564.1 L256.5,563.9 L257.5,563.5 L258.4,562.7 L259.0,561.9 L259.4,560.9 L259.9,559.7 L260.4,558.5 L260.8,557.4 L261.4,556.5 L262.3,555.6 L263.3,554.9 L264.3,554.3 L265.5,553.9 L266.4,553.6 L267.4,553.4 L268.4,553.2 L269.5,553.1 L270.6,553.1 L271.6,553.1 L272.7,553.3 L273.7,553.5 L274.8,553.9 L275.9,554.3 L276.9,554.7 L277.8,555.1 L278.9,555.8 L279.9,556.6 L280.8,557.3 L281.8,557.6 L282.7,557.5 L283.8,557.2 L284.8,556.7 L285.9,556.2 L286.9,555.9 L287.9,555.7 L288.9,555.5 L289.9,555.4 L290.9,555.2 L292.0,555.1 L293.0,555.0 L294.0,555.0 L295.0,554.9 L296.1,554.9 L297.2,554.7 L298.2,554.5 L299.2,554.1 L300.2,553.7 L301.3,553.2 L302.3,552.6 L303.3,552.0 L304.3,551.4 L305.2,550.9 L306.1,550.3 L307.0,549.7 L308.0,549.1 L308.8,548.5 L309.7,547.9 L310.4,547.3 L311.3,546.5 L312.0,545.8 L312.7,545.0 L313.4,544.3 L314.1,543.6 L314.9,542.9 L315.7,542.1 L316.5,541.3 L317.4,540.8 L318.2,540.5 L319.2,540.8 L320.2,541.5 L321.2,542.2 L322.2,542.5 L323.2,542.1" fill="none" stroke="#000" stroke-width="2.2" stroke-dasharray="4.2 2.9" stroke-linejoin="round"/>
<path d="M67.9,559.1L70.0,554.6 M72.4,558.9L73.9,553.7 M76.5,556.7L78.3,551.1 M81.6,553.5L82.7,549.0 M85.8,550.7L87.6,545.3 M89.6,548.9L91.6,544.7 M93.4,546.3L95.3,540.8 M97.9,544.3L100.0,539.8 M101.8,542.6L103.2,538.3 M105.1,539.2L107.2,534.7 M108.4,534.7L110.2,530.2" fill="none" stroke="#000" stroke-width="2.2"/>
<path d="M327.0,541.8L328.5,537.4 M329.9,539.9L331.5,534.9 M333.9,535.1L335.9,530.2 M337.2,533.5L338.4,528.5 M341.6,530.9L342.8,526.1 M346.4,528.3L348.1,522.7 M351.3,527.0L352.3,522.1 M355.8,527.4L357.1,521.7 M360.0,525.0L362.1,520.6 M365.0,524.2L366.1,518.8 M368.9,520.5L370.3,514.7 M372.2,516.7L374.3,512.2 M376.6,512.4L378.1,507.1 M380.6,511.0L382.3,505.1 M384.1,507.5L386.2,501.9 M387.8,504.5L389.5,498.6 M392.9,503.0L394.7,498.7 M397.1,502.7L398.7,498.3 M400.0,497.7L402.1,493.5 M403.4,495.4L405.5,489.9 M407.1,492.4L409.0,487.6 M409.6,488.2L411.6,482.8" fill="none" stroke="#000" stroke-width="1.9"/>
<path d="M146.3,180.5 L147.2,173 L147.9,167.6 L148.6,172 L148.1,176 L149.4,173.5 L150.6,178.5 L151.6,183" fill="none" stroke="#000" stroke-width="2.0" stroke-linejoin="round"/>
<path d="M67.3,566.0 L68.2,562.9 L67.8,560.8 L67.6,557.9 L66.4,556.2 L67.8,553.9 L67.3,551.9 L68.0,549.8" fill="none" stroke="#000" stroke-width="1.6" stroke-dasharray="3 1.5"/>
<path d="M66.1,539.7 L66.8,540.2 L67.9,538.4 L69.6,536.3 L70.9,536.4 L72.0,534.6 L73.3,533.7 L74.4,531.9 L75.2,530.6 L76.3,531.3 L77.4,529.7 L78.4,528.4 L79.3,526.1 L80.5,526.0 L81.4,523.2 L82.4,522.2 L83.4,522.1 L84.4,520.5 L85.3,517.3 L85.7,516.9 L86.2,515.1 L87.2,512.7 L87.7,511.0 L88.3,511.2 L88.8,507.4 L89.3,507.1 L89.9,504.6 L90.6,505.3 L91.4,502.3 L92.2,500.0 L92.8,498.8 L93.5,499.5 L93.9,497.4 L94.7,495.3 L95.6,495.8 L96.9,492.5 L97.8,493.1 L98.7,490.3 L99.1,488.5 L99.9,487.7 L100.4,486.1" fill="none" stroke="#000" stroke-width="2.7" stroke-linejoin="round"/>
<path d="M99.9,487.7 L100.4,486.1 L101.0,484.6 L101.6,483.0 L102.2,481.3 L102.7,479.7 L103.3,478.1 L103.9,476.5 L104.4,475.1 L104.9,473.8 L105.5,472.5 L106.0,471.1 L106.5,469.8 L107.0,468.4 L107.5,467.0 L108.0,465.5 L108.5,463.9 L109.0,462.2 L109.3,460.8 L109.7,459.4 L110.0,458.0 L110.3,456.5 L110.7,455.0 L111.0,453.4 L111.3,451.8 L111.6,450.2 L111.9,448.6 L112.2,446.9 L112.5,445.2 L112.8,443.5 L113.1,441.8 L113.4,440.4 L113.6,438.9 L113.9,437.5 L114.1,436.0 L114.4,434.5 L114.6,433.0 L114.9,431.5 L115.2,429.9 L115.4,428.4 L115.7,426.8 L115.9,425.2 L116.2,423.7 L116.4,422.1 L116.6,420.5 L116.9,418.9 L117.1,417.3 L117.3,415.8 L117.5,414.2 L117.7,412.7 L117.9,411.1 L118.1,409.5 L118.3,407.8 L118.5,406.2 L118.7,404.6 L118.9,403.0 L119.0,401.4 L119.2,399.8 L119.4,398.2 L119.6,396.7 L119.7,395.1 L119.9,393.7 L120.0,392.2 L120.2,390.8 L120.4,389.0 L120.6,387.3 L120.7,385.7 L120.9,384.1 L121.0,382.5 L121.2,381.0 L121.3,379.5 L121.5,378.0 L121.6,376.5 L121.8,375.0 L121.9,373.5 L122.0,372.0 L122.2,370.4 L122.4,368.9 L122.5,367.4 L122.7,366.1 L122.8,364.7 L123.0,363.4 L123.2,362.0 L123.3,360.6 L123.5,359.1 L123.7,357.6 L123.8,355.9 L124.0,354.1 L124.1,352.1 L124.3,350.0 L124.4,348.8 L124.5,347.6 L124.5,346.3 L124.6,344.9 L124.7,343.6 L124.8,342.2 L124.9,340.7 L125.0,339.2 L125.0,337.7 L125.1,336.2 L125.2,334.6 L125.3,333.1 L125.4,331.5 L125.4,329.9 L125.5,328.2 L125.6,326.6 L125.7,325.0 L125.8,323.3 L125.8,321.7 L125.9,320.1 L126.0,318.4 L126.1,316.8 L126.2,315.2 L126.2,313.6 L126.3,312.0 L126.4,310.5 L126.4,309.0 L126.5,307.5 L126.6,306.0 L126.6,304.5 L126.7,302.9 L126.8,301.4 L126.8,299.8 L126.9,298.2 L127.0,296.7 L127.0,295.1 L127.1,293.5 L127.2,291.9 L127.2,290.4 L127.3,288.8 L127.4,287.2 L127.4,285.7 L127.5,284.1 L127.6,282.6 L127.6,281.1 L127.7,279.6 L127.7,278.2 L127.8,276.7 L127.8,275.3 L127.9,273.9 L127.9,272.5 L128.0,271.2 L128.1,269.4 L128.1,267.7 L128.2,266.1 L128.2,264.4 L128.3,262.8 L128.4,261.3 L128.4,259.7 L128.5,258.2 L128.5,256.7 L128.6,255.3 L128.6,253.8 L128.6,252.4 L128.7,250.9 L128.7,249.5 L128.8,248.0 L128.8,246.6 L128.9,245.1 L128.9,243.6 L129.0,242.1 L129.0,240.6 L129.0,239.1 L129.1,237.7 L129.1,236.3 L129.2,234.9 L129.2,233.6 L129.3,232.3 L129.3,231.0 L129.3,229.7 L129.4,228.4 L129.4,227.0 L129.5,225.7 L129.5,224.2 L129.5,222.8 L129.6,221.2 L129.6,219.6 L129.7,217.9 L129.7,216.1 L129.7,214.2 L129.8,212.2 L129.8,210.0 L129.8,208.8 L129.8,207.5 L129.9,206.2 L129.9,204.9 L129.9,203.5 L129.9,202.0 L129.9,200.6 L129.9,199.0 L129.9,197.5 L130.0,195.9 L130.0,194.3 L130.0,192.7 L130.0,191.0 L130.0,189.3 L130.0,187.6 L130.0,185.9 L130.1,184.2 L130.1,182.5 L130.1,180.8 L130.1,179.1 L130.1,177.4 L130.1,175.7 L130.1,174.0 L130.2,172.3 L130.2,170.6 L130.2,168.9 L130.2,167.3 L130.2,165.7 L130.2,164.1 L130.3,162.6 L130.3,161.0 L130.3,159.6 L130.3,158.1 L130.3,156.7 L130.3,155.4 L130.4,154.1 L130.4,152.8 L130.4,151.6 L130.4,149.5 L130.5,147.6 L130.5,145.8 L130.6,144.2 L130.6,142.7 L130.7,141.3 L130.7,140.0 L130.8,138.8 L130.9,137.6 L130.9,136.5 L131.0,135.3 L131.0,134.1 L131.1,132.9 L131.1,131.5 L131.2,130.1 L131.2,128.6 L131.3,127.0 L131.3,125.2 L131.4,123.2 L131.4,121.0 L131.4,119.8 L131.4,118.6 L131.5,117.2 L131.5,115.9 L131.5,114.4 L131.5,112.9 L131.5,111.4 L131.5,109.8 L131.5,108.1 L131.6,106.5 L131.6,104.7 L131.6,103.0 L131.6,101.3 L131.6,99.5 L131.6,97.7 L131.6,95.9 L131.6,94.0 L131.6,92.2 L131.7,90.4 L131.7,88.6 L131.7,86.8 L131.7,85.0 L131.7,83.2 L131.7,81.5 L131.7,79.7 L131.7,78.1 L131.7,76.4 L131.7,74.8 L131.7,73.2 L131.7,71.7 L131.7,70.2 L131.8,68.8 L131.8,67.4 L131.8,66.1 L131.8,64.9 L131.8,63.8 L131.8,62.7 L131.8,61.7 L131.8,60.8 L131.8,60.0" fill="none" stroke="#000" stroke-width="2.15" stroke-linejoin="round"/>
<path d="M67.9,549.0 L67.5,547.3 L67.2,545.8 L67.0,543.8 L66.9,542.9 L67.1,541.8 L66.6,540.6 L67.0,539.4 L66.8,538.0 L66.8,537.1 L67.2,535.6 L68.2,533.9 L66.5,532.6" fill="none" stroke="#000" stroke-width="1.8"/>
<path d="M189.4,60.0 C189.4,75.3 189.5,126.6 189.6,151.6 C189.7,176.6 190.0,190.1 190.2,210.0 C190.4,229.9 190.7,247.9 191.0,271.2 C191.3,294.5 191.8,330.1 192.2,350.0 C192.6,369.9 192.9,377.2 193.3,390.8 C193.7,404.4 193.8,419.4 194.4,431.6 C195.0,443.9 196.3,455.9 197.1,464.3 C197.9,472.7 198.7,476.0 199.4,482.0 C200.1,488.0 200.5,493.9 201.2,500.4 C201.8,506.9 202.6,515.0 203.3,520.8 C204.0,526.6 204.6,531.9 205.3,535.1 C206.0,538.3 206.1,539.4 207.3,540.2 C208.5,541.1 211.0,540.4 212.4,540.2 C213.8,540.0 214.1,539.0 215.5,539.2 C216.9,539.4 218.7,540.5 220.6,541.2 C222.5,541.9 224.8,542.6 226.7,543.3 C228.6,544.0 230.4,544.1 231.8,545.3 C233.2,546.5 233.4,549.4 234.9,550.4 C236.4,551.4 238.4,551.1 241.0,551.4 C243.6,551.7 248.0,551.7 250.2,552.4 C252.4,553.1 253.1,554.8 254.3,555.5 C255.5,556.2 256.3,556.7 257.3,556.5 C258.3,556.3 259.2,556.0 260.4,554.5 C261.6,553.0 263.3,550.5 264.5,547.3 C265.7,544.1 266.8,539.5 267.6,535.1 C268.5,530.7 268.9,525.6 269.6,520.8 C270.3,516.0 270.8,511.3 271.6,506.5 C272.5,501.7 273.7,496.1 274.7,492.2 C275.7,488.3 276.9,483.1 277.8,483.1 C278.7,483.1 279.0,486.9 279.8,492.2 C280.6,497.5 281.9,507.9 282.9,514.7 C283.9,521.5 284.9,528.0 285.9,533.1 C286.9,538.2 288.0,542.1 289.0,545.3 C290.0,548.5 291.0,550.9 292.0,552.4 C293.0,553.9 294.1,554.7 295.1,554.5 C296.1,554.3 297.4,552.9 298.2,551.4 C299.0,549.9 299.5,546.2 300.2,545.3 C300.9,544.3 301.3,544.7 302.2,545.7 C303.1,546.7 304.3,548.8 305.3,551.4 C306.3,554.0 307.2,558.2 308.4,561.6 C309.6,565.0 311.0,568.7 312.4,571.8 C313.8,574.9 315.1,578.1 316.5,580.0 C317.9,581.9 319.4,583.2 320.6,583.2 C321.8,583.2 322.6,581.9 323.5,580.0 C324.4,578.1 325.1,576.4 325.9,571.6 C326.6,566.8 327.4,559.7 328.0,551.2 C328.6,542.7 329.0,530.8 329.4,520.6 C329.8,510.4 330.1,499.9 330.4,490.0 C330.7,480.1 331.0,471.3 331.4,461.2 C331.8,451.1 332.3,435.1 332.9,429.6 C333.5,424.1 334.2,428.1 335.0,428.0 C335.8,427.9 336.8,426.7 337.6,428.8 C338.4,430.9 338.9,433.7 339.6,440.8 C340.3,447.9 340.9,461.2 341.6,471.4 C342.3,481.6 342.9,492.2 343.7,502.0 C344.5,511.8 345.2,521.8 346.2,530.0 C347.1,538.2 348.5,549.0 349.4,551.2 C350.3,553.4 350.9,548.9 351.6,543.0 C352.4,537.1 353.1,526.0 353.9,516.0 C354.7,506.0 355.7,493.8 356.5,483.0 C357.3,472.2 358.0,459.4 358.6,451.0 C359.2,442.6 359.9,434.4 360.4,432.7 C360.9,431.0 361.1,434.6 361.5,441.0 C361.9,447.4 362.2,461.2 362.7,471.4 C363.2,481.6 364.0,493.9 364.7,502.0 C365.4,510.1 366.2,514.5 367.1,520.0 C368.0,525.5 369.4,531.0 370.2,535.0 C371.0,539.0 371.2,541.2 372.2,544.1 C373.2,547.0 374.9,549.9 376.3,552.2 C377.7,554.5 379.0,556.6 380.4,558.0 C381.8,559.4 383.1,559.0 384.5,560.4 C385.9,561.8 387.1,564.3 388.6,566.5 C390.1,568.7 392.1,571.7 393.7,573.7 C395.3,575.8 396.5,577.8 398.2,578.8 C399.9,579.8 402.9,579.6 403.9,579.8" fill="none" stroke="#000" stroke-width="2.15" stroke-linejoin="round"/>
<path d="M398.2,578.5 L400.3,579.0 L403.9,579.7 L406.4,580.1 L409.3,579.9 L412.6,580.0 L416.1,580.2 L418.6,580.6 L421.2,580.3 L423.9,580.7 L426.7,580.7 L429.6,580.4 L432.4,580.8 L434.7,580.9 L437.0,581.1 L439.2,581.8 L441.5,581.4 L444.0,581.6 L446.8,582.5 L450.0,582.2 L452.1,582.1 L454.3,582.3 L456.6,582.3 L459.1,582.8 L461.6,582.2 L464.2,582.2 L466.9,582.5 L469.5,582.4 L472.2,582.7 L474.9,582.6 L477.5,582.3 L480.0,582.2 L482.5,582.6 L485.1,582.8 L487.8,582.1 L490.4,582.6 L493.1,582.8 L495.8,582.6 L498.4,582.3 L500.9,582.8 L503.3,582.7 L505.7,582.4 L507.9,582.7 L510.0,582.4 L513.3,582.3 L516.3,582.5 L519.1,582.5 L521.6,582.5 L524.0,582.7 L526.1,582.7 L528.0,582.7 L531.4,582.2 L533.7,581.5 L535.8,581.0 L537.6,581.5 L542.0,582.4 L543.7,582.8 L545.7,582.8 L548.0,582.9 L550.5,582.5 L553.1,582.6 L555.9,583.1 L558.8,582.9 L561.6,582.9 L564.5,582.5 L567.3,582.7 L570.0,583.1 L572.5,582.9 L575.0,583.2 L577.7,582.7 L580.3,582.9 L583.0,583.2 L585.7,583.0 L588.3,583.2 L590.9,583.1 L593.4,582.8 L595.7,582.9 L597.9,583.5 L600.0,582.9 L603.8,583.0 L607.3,583.1 L610.4,583.4 L613.1,583.5 L615.3,583.3 L617.0,583.3" fill="none" stroke="#000" stroke-width="2.5" stroke-linejoin="round"/>
<path d="M131.30,60.0V111.5 M132.10,60.0V111.6 M132.90,60.0V111.2 M133.70,60.0V105.6 M134.50,60.0V109.1 M135.30,60.0V108.0 M136.10,86.0V97.0 M136.90,86.0V97.0 M137.70,60.0V98.3 M138.50,60.0V100.1 M139.30,60.0V125.5 M140.10,60.0V127.2 M140.90,60.0V124.2 M141.70,60.0V100.6 M142.50,60.0V105.0 M143.30,60.0V153.9 M144.10,60.0V154.6 M144.90,60.0V111.1 M145.70,60.0V108.5 M146.50,60.0V106.4 M147.30,60.0V141.5 M148.10,60.0V112.1 M148.90,60.0V112.6 M149.70,60.0V156.3 M150.50,60.0V158.8 M151.30,60.0V118.5 M152.10,60.0V121.3 M152.90,60.0V124.6 M153.70,60.0V126.0 M154.50,60.0V126.6 M155.30,60.0V124.2 M156.10,60.0V122.6 M156.90,60.0V125.3 M157.70,60.0V149.0 M158.50,81.6V148.1 M159.30,81.8V148.5 M160.10,83.3V145.2 M160.90,83.9V145.3 M161.70,118.0V140.4 M162.50,85.4V139.9 M163.30,86.0V143.6 M164.10,83.7V141.9 M164.90,82.4V141.6 M165.70,60.0V165.9 M166.50,60.0V164.3 M167.30,60.0V125.8 M168.10,60.0V124.7 M168.90,60.0V129.5 M169.70,60.0V129.0 M170.50,60.0V129.8 M171.30,60.0V136.7 M172.10,60.0V138.8 M172.90,60.0V141.4 M173.70,60.0V161.1 M174.50,60.0V163.6 M175.30,60.0V130.2 M176.10,60.0V135.8 M176.90,60.0V129.4 M177.70,79.0V131.9 M178.50,79.0V129.2 M179.30,60.0V166.7 M180.10,60.0V146.8 M180.90,60.0V148.8 M181.70,60.0V147.6 M182.50,60.0V148.6 M183.30,60.0V145.8 M184.10,60.0V152.9 M184.90,91.0V151.2 M185.70,91.0V148.4 M186.50,60.0V152.8 M187.30,60.0V152.6 M188.10,60.0V151.4 M188.90,60.0V150.5" fill="none" stroke="#000" stroke-width="1.15"/>
<path d="M549.1,289.8V311" fill="none" stroke="#000" stroke-width="1.9" stroke-dasharray="3.9 4"/>
<path d="M541.6,312.8 Q549.1,322.5 556.6,312.8 L549.1,335.8 Z" fill="#fff" stroke="#000" stroke-width="2.5" stroke-linejoin="miter"/>
</g>
<path d="M65.7,72.9 H616.7 V623.6 H65.7 Z" fill="none" stroke="#000" stroke-width="2"/>
<path d="M91.94,623.6 v-6.5 M91.94,72.9 v6.5 M118.18,623.6 v-6.5 M118.18,72.9 v6.5 M144.41,623.6 v-6.5 M144.41,72.9 v6.5 M170.65,623.6 v-6.5 M170.65,72.9 v6.5 M196.89,623.6 v-12 M196.89,72.9 v12 M223.13,623.6 v-6.5 M223.13,72.9 v6.5 M249.37,623.6 v-6.5 M249.37,72.9 v6.5 M275.60,623.6 v-6.5 M275.60,72.9 v6.5 M301.84,623.6 v-6.5 M301.84,72.9 v6.5 M328.08,623.6 v-12 M328.08,72.9 v12 M354.32,623.6 v-6.5 M354.32,72.9 v6.5 M380.56,623.6 v-6.5 M380.56,72.9 v6.5 M406.80,623.6 v-6.5 M406.80,72.9 v6.5 M433.03,623.6 v-6.5 M433.03,72.9 v6.5 M459.27,623.6 v-12 M459.27,72.9 v12 M485.51,623.6 v-6.5 M485.51,72.9 v6.5 M511.75,623.6 v-6.5 M511.75,72.9 v6.5 M537.99,623.6 v-6.5 M537.99,72.9 v6.5 M564.22,623.6 v-6.5 M564.22,72.9 v6.5 M590.46,623.6 v-12 M590.46,72.9 v12 M65.70,72.9 v-6.5 M196.89,72.9 v-6.5 M262.49,72.9 v-6.5 M371.81,72.9 v-6.5 M459.27,72.9 v-6.5 M590.46,72.9 v-6.5 M65.7,513.46 h11 M65.7,403.32 h11 M65.7,293.18 h11 M65.7,183.04 h11 M616.7,531.82 h-11 M616.7,440.03 h-11 M616.7,348.25 h-11 M616.7,256.47 h-11 M616.7,164.68 h-11" fill="none" stroke="#000" stroke-width="1.9"/>
<path d="M90,144.8 V171.6 M203.3,414.8 V461.7" fill="none" stroke="#000" stroke-width="1.9"/>
<text x="67.2" y="652" font-size="22.5" text-anchor="middle" >500</text>
<text x="198.4" y="652" font-size="22.5" text-anchor="middle" >1000</text>
<text x="329.6" y="652" font-size="22.5" text-anchor="middle" >1500</text>
<text x="460.8" y="652" font-size="22.5" text-anchor="middle" >2000</text>
<text x="592.0" y="652" font-size="22.5" text-anchor="middle" >2500</text>
<text x="66.7" y="59.8" font-size="22.5" text-anchor="middle" >20</text>
<text x="197.9" y="59.8" font-size="22.5" text-anchor="middle" >10</text>
<text x="263.5" y="59.8" font-size="22.5" text-anchor="middle" >8</text>
<text x="372.8" y="59.8" font-size="22.5" text-anchor="middle" >6</text>
<text x="460.3" y="59.8" font-size="22.5" text-anchor="middle" >5</text>
<text x="591.5" y="59.8" font-size="22.5" text-anchor="middle" >4</text>
<text x="62.3" y="631.4" font-size="22.5" text-anchor="end" >0</text>
<text x="62.3" y="521.3" font-size="22.5" text-anchor="end" >0.2</text>
<text x="62.3" y="411.1" font-size="22.5" text-anchor="end" >0.4</text>
<text x="62.3" y="301.0" font-size="22.5" text-anchor="end" >0.6</text>
<text x="62.3" y="190.8" font-size="22.5" text-anchor="end" >0.8</text>
<text x="62.3" y="80.7" font-size="22.5" text-anchor="end" >1</text>
<text x="622.5" y="633.8" font-size="22.5" text-anchor="start" >0</text>
<text x="622.5" y="542.0" font-size="22.5" text-anchor="start" >0.5</text>
<text x="622.5" y="450.2" font-size="22.5" text-anchor="start" >1</text>
<text x="622.5" y="358.4" font-size="22.5" text-anchor="start" >1.5</text>
<text x="622.5" y="266.7" font-size="22.5" text-anchor="start" >2</text>
<text x="622.5" y="174.9" font-size="22.5" text-anchor="start" >2.5</text>
<text x="622.5" y="83.1" font-size="22.5" text-anchor="start" >3</text>
<text x="321.2" y="28.7" font-size="27" text-anchor="middle" >Wavelength, <tspan font-family="'Liberation Serif','DejaVu Serif',serif">μ</tspan>m</text>
<text x="330.6" y="684.4" font-size="27" text-anchor="middle" >Wavenumber, cm<tspan font-size="16.5" dy="-12.5" dx="1">-1</tspan></text>
<text transform="translate(20.8,351) rotate(-90)" font-size="27" text-anchor="middle">Raw chemical absorbance for thin-film</text>
<text transform="translate(663,342.5) rotate(90)" font-size="27" text-anchor="middle">Raw chemical absorbance for wafers</text>
<text transform="translate(95.3,137.5) rotate(-90)" font-size="18.5" text-anchor="start">614.4</text>
<text x="500" y="121.3" font-size="24" text-anchor="start" >3C SiC</text>
<text x="529.5" y="266.8" font-size="23" text-anchor="start" >CO<tspan font-size="14.5" dy="11">2</tspan></text>
<text x="426.5" y="314.3" font-size="23" text-anchor="start" >~70 K</text>
<text x="474.5" y="415.2" font-size="23" text-anchor="start" >wafer</text>
<text x="474.5" y="444" font-size="23" text-anchor="start" >t = 308 <tspan font-family="'Liberation Serif','DejaVu Serif',serif">μ</tspan>m</text>
<text x="477" y="539.7" font-size="23" text-anchor="start" >wafer</text>
<text x="476.5" y="568.2" font-size="23" text-anchor="start" >t = 25.0 <tspan font-family="'Liberation Serif','DejaVu Serif',serif">μ</tspan>m</text>
<text x="77" y="589.7" font-size="23" text-anchor="start" >nano thin-film</text>
<text x="204.3" y="404.3" font-size="18.6" text-anchor="start" >1010 cm<tspan font-size="12.5" dy="-9.5">-1</tspan></text>
</svg>
</body></html>
